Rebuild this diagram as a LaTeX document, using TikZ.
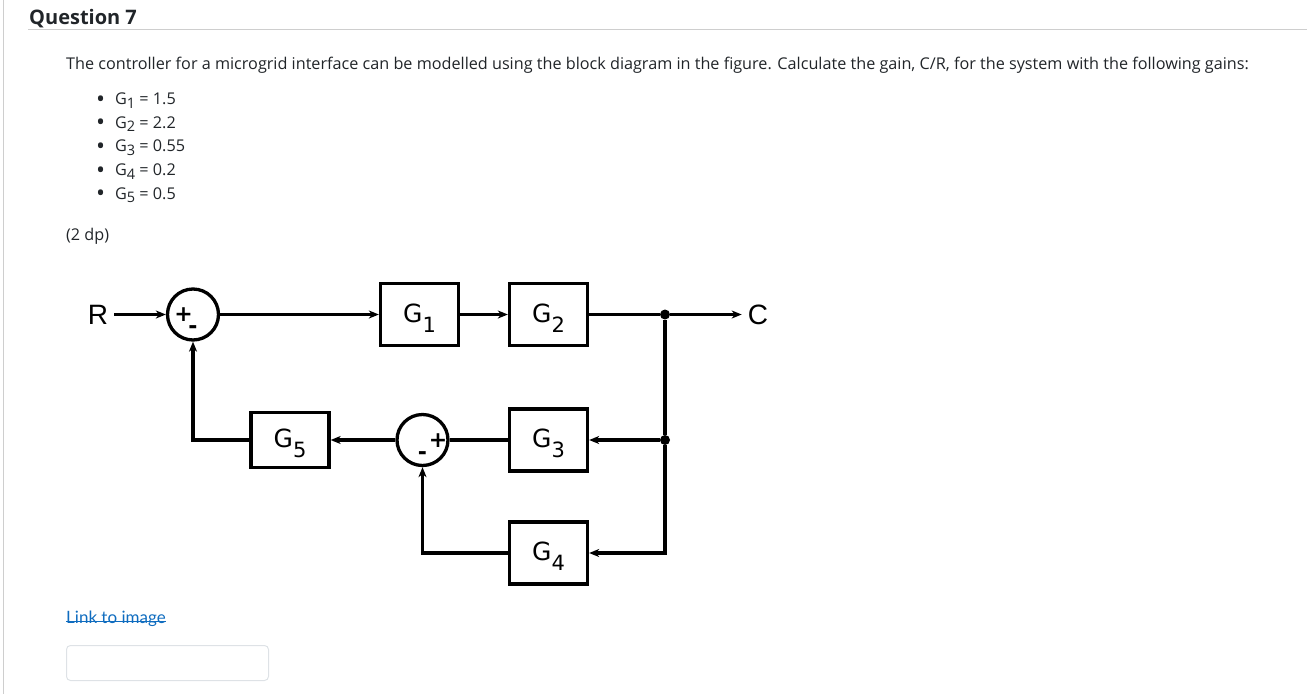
\documentclass[tikz,border=0pt]{standalone}
\usepackage{fontspec}
\setmainfont{Open Sans}
\newfontfamily\diagfont{DejaVu Sans}
\newfontfamily\letrafont{Liberation Sans}
\newfontfamily\enlacefont{Lato}
\usepackage{tikz}
\usetikzlibrary{positioning,arrows.meta}
\definecolor{textoscuro}{RGB}{33,37,41}
\definecolor{grislinea}{RGB}{206,206,206}
\definecolor{grisborde}{RGB}{222,226,230}
\definecolor{azulenlace}{HTML}{0F6CBF}
\tikzset{conexion/.style={line width=3.3pt}}
\tikzset{flecha/.style={conexion,-{Stealth[length=10pt,width=8pt,inset=3pt]}}}
\tikzset{bloque/.style={draw,line width=3.3pt,minimum width=78pt,minimum height=62pt,inner sep=0pt,text height=20pt,text depth=4.4pt,font=\diagfont\fontsize{25}{25}\selectfont}}
\tikzset{sumador/.style={draw,circle,line width=3.3pt,minimum size=51pt,inner sep=0pt}}
\tikzset{signo/.style={inner sep=0pt,font=\diagfont\bfseries\fontsize{22}{22}\selectfont}}
\tikzset{punto/.style={circle,fill,inner sep=0pt,minimum size=10pt}}
\tikzset{senal/.style={inner sep=6pt,font=\letrafont\fontsize{28}{28}\selectfont}}
\tikzset{texto/.style={anchor=base west,inner sep=0pt,text=textoscuro,font=\fontsize{16.2}{18}\selectfont}}
\newcommand{\gsub}[1]{\raisebox{-10pt}{\fontsize{21}{21}\selectfont #1}}
\newcommand{\lsub}[1]{\raisebox{-3.5pt}{\fontsize{14.5}{14.5}\selectfont #1}}

\begin{document}
\begin{tikzpicture}[x=1pt, y=-1pt, on grid]
            \useasboundingbox (0,0) rectangle (1307,694);
            % page
            \draw[grislinea, line width=1pt] (3,0) -- (3,694);
            \draw[grislinea, line width=1pt] (28,29.5) -- (1307,29.5);
            \node[texto, font=\bfseries\fontsize{20}{22}\selectfont] (titulo) at (29,24) {Question 7};
            \node[texto] (enunciado) at (66,69.5) {The controller for a microgrid interface can be modelled using the block diagram in the figure. Calculate the gain, C/R, for the system with the following gains:};
            \node[texto, font=\fontsize{24}{24}\selectfont] (b1) at (96,107) {\textbullet}; \node[texto] (g1) at (115,104.5) {G\lsub{1} = 1.5};
            \node[texto, font=\fontsize{24}{24}\selectfont] (b2) at (96,130.7) {\textbullet}; \node[texto] (g2) at (115,128.2) {G\lsub{2} = 2.2};
            \node[texto, font=\fontsize{24}{24}\selectfont] (b3) at (96,154.4) {\textbullet}; \node[texto] (g3) at (115,151.9) {G\lsub{3} = 0.55};
            \node[texto, font=\fontsize{24}{24}\selectfont] (b4) at (96,178.1) {\textbullet}; \node[texto] (g4) at (115,175.6) {G\lsub{4} = 0.2};
            \node[texto, font=\fontsize{24}{24}\selectfont] (b5) at (96,201.8) {\textbullet}; \node[texto] (g5) at (115,199.3) {G\lsub{5} = 0.5};
            \node[texto] (dp) at (66,240) {(2 dp)};
            \node[texto, text=azulenlace, font=\enlacefont\fontsize{17}{18}\selectfont] (enlace) at (66,623.3) {Link to image};
            \draw[azulenlace, line width=1pt] ([yshift=2pt]enlace.base west) -- ([yshift=2pt]enlace.base east);
            \draw[grisborde, line width=1pt, rounded corners=4pt] (66.5,645.5) rectangle (268.5,680.5);

            % block diagram
            \node[sumador] (sumA) at (193,314.5) {};
            \node[signo, left=9.5pt of sumA] (sumAmas) {+};
            \node[signo, below=15pt of sumA] (sumAmenos) {-};
            \node[senal, left=95pt of sumA] (R) {R};
            \node[bloque, right=226.5pt of sumA] (G1) {G\gsub{1}};
            \node[bloque, right=129pt of G1] (G2) {G\gsub{2}};
            \node[punto, right=116.5pt of G2] (jTop) {};
            \node[senal, right=93pt of jTop] (C) {C};
            \node[bloque, below=125.5pt of G2] (G3) {G\gsub{3}};
            \node[punto, below=125.5pt of jTop] (jMid) {};
            \node[sumador, left=126pt of G3] (sumB) {};
            \node[signo, below right=1pt and 15.5pt of sumB] (sumBmas) {+};
            \node[signo, below=15.5pt of sumB] (sumBmenos) {-};
            \node[bloque, left=132.5pt of sumB, minimum height=55pt] (G5) {G\gsub{5}};
            \node[bloque, below=113pt of G3] (G4) {G\gsub{4}};

            \draw[flecha] (R) to (sumA);
            \draw[flecha] (sumA) to (G1);
            \draw[flecha] (G1) to (G2);
            \draw[conexion] (G2) to (jTop);
            \draw[flecha] (jTop) to (C);
            \draw[conexion] (jTop) to (jMid);
            \draw[flecha] (jMid) to (G3);
            \draw[flecha] (jMid) |- (G4);
            \draw[conexion] (G3) to (sumB);
            \draw[flecha] (sumB) to (G5);
            \draw[flecha] (G5) -| (sumA);
            \draw[flecha] (G4) -| (sumB);
        \end{tikzpicture}
\end{document}
